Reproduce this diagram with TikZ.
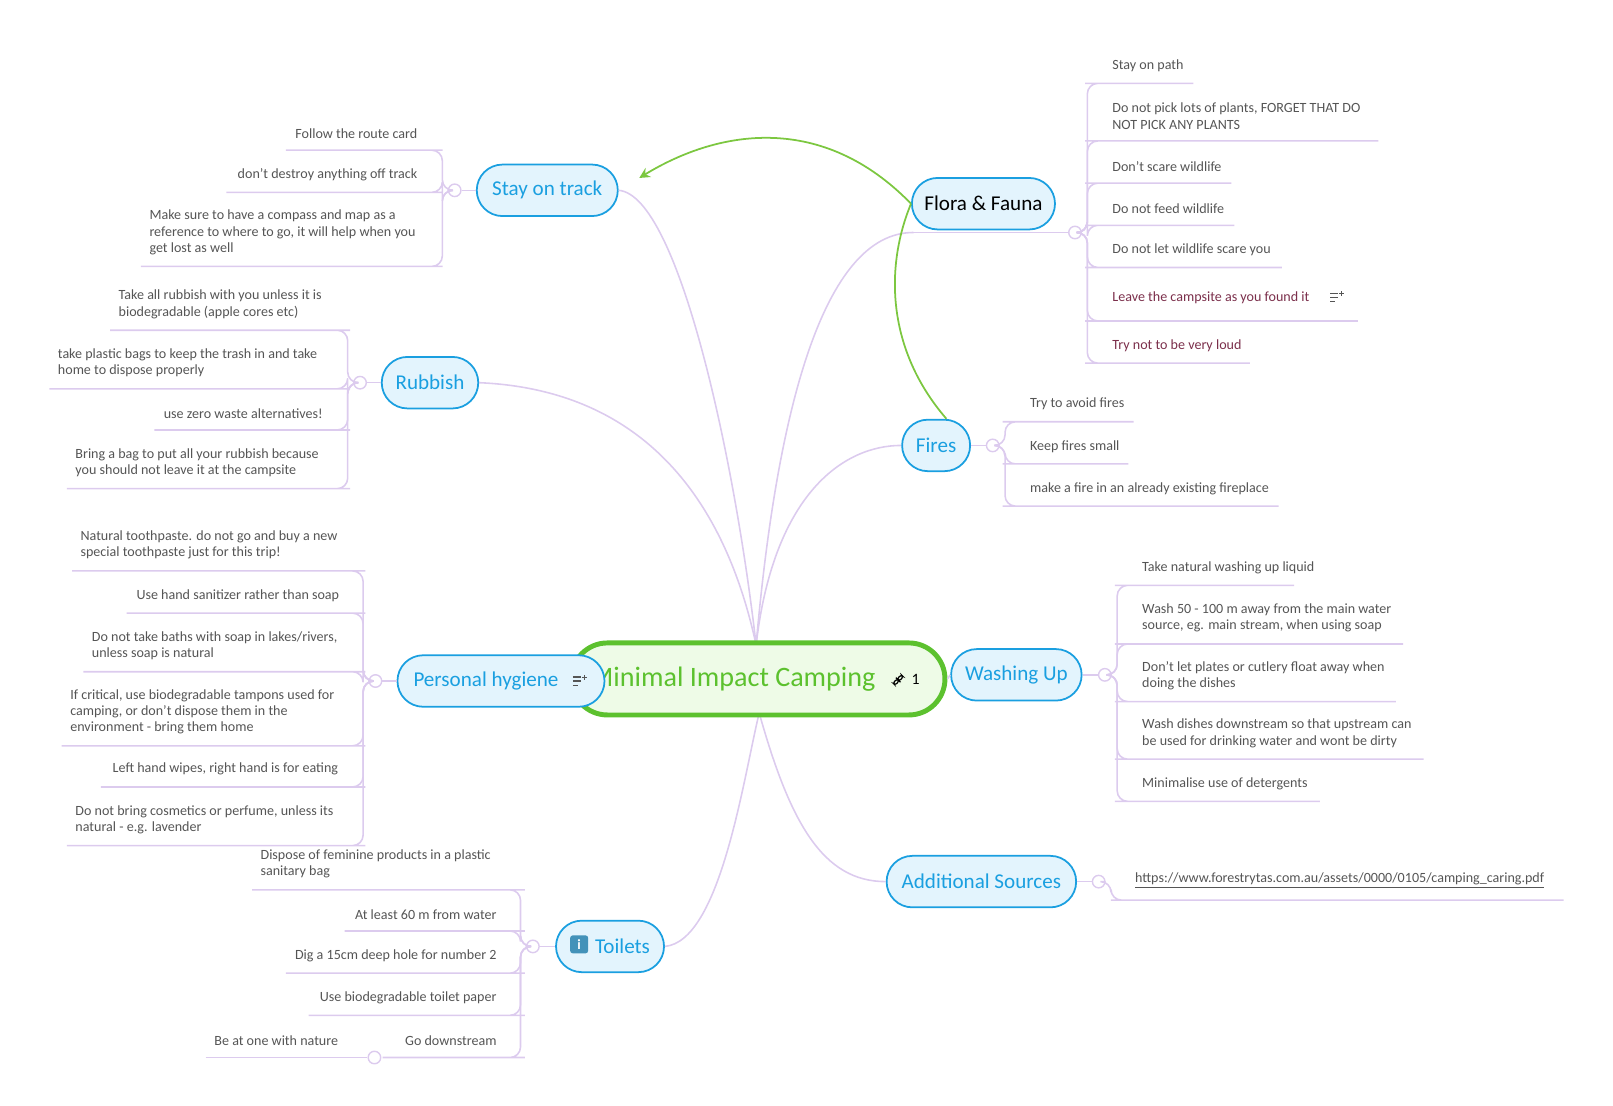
\documentclass[tikz,border=0pt]{standalone}
\usepackage{fontspec}
\setmainfont{Carlito}
\usetikzlibrary{calc,arrows.meta}
\definecolor{topicblue}{HTML}{1A9FE0}
\definecolor{topicfill}{HTML}{E3F4FD}
\definecolor{rootgreen}{HTML}{5CC12E}
\definecolor{rootfill}{HTML}{EEFBE7}
\definecolor{leafline}{HTML}{DCCBEE}
\definecolor{leafgrey}{HTML}{555555}
\definecolor{leafbrown}{HTML}{7B2F4B}
\definecolor{relgreen}{HTML}{7CC740}
\tikzset{
  topic/.style = {draw=topicblue, fill=topicfill, text=topicblue, line width=1pt,
    rounded corners=0.515cm, minimum height=1.03cm, inner xsep=0.25cm,
    font=\fontsize{12}{14}\selectfont},
  hub/.style = {circle, draw=leafline, fill=white, line width=0.8pt, minimum size=0.25cm, inner sep=0},
  leaf/.style = {text=leafgrey, inner sep=0, align=left, font=\fontsize{8}{9.3}\selectfont},
  leafline/.style = {draw=leafline, line width=0.9pt},
  relarrow/.style = {draw=relgreen, line width=1pt},
}
% leaf: name, text x, anchor, text, far x, near x, underline y, hub
\newcommand\leafL[8]{%
  \node[leaf, anchor=south #3] (#1) at (#2,#7-11) {#4};
  \draw[leafline, rounded corners=6] (#5,#7) -- (#6,#7) -| ($(#8)+(-12,0)$) -- (#8);}
\newcommand\leafR[8]{%
  \node[leaf, anchor=south #3] (#1) at (#2,#7-11) {#4};
  \draw[leafline, rounded corners=6] (#5,#7) -- (#6,#7) -| ($(#8)+(12,0)$) -- (#8);}
\newcommand\noteicon[1]{%
  \draw[leafgrey, line width=0.7pt] ($(#1)+(-5,-4)$) -- ++(8,0) ($(#1)+(-5,0)$) -- ++(8,0) ($(#1)+(-5,4)$) -- ++(5,0)
    ($(#1)+(6,-6)$) -- ++(0,5) ($(#1)+(3.5,-3.5)$) -- ++(5,0);}
\begin{document}
\begin{tikzpicture}[x=0.020574cm, y=-0.020574cm]
  \useasboundingbox (0,0) rectangle (1568,1075);

  % center
  \coordinate (ctop) at (735,627);
  \coordinate (cbot) at (738,693);

  \node[topic, minimum width=2.82cm] (st) at (532,185) {Stay on track};
  \node[topic, minimum width=1.93cm] (rb) at (418,372) {Rubbish};
  \node[topic, minimum width=2.16cm] (to) at (593,920) {\hspace*{0.5cm}Toilets};
  \node[topic, minimum width=2.78cm, text=black] (ff) at (956,198) {Flora \& Fauna};
  \node[topic, minimum width=1.36cm] (fi) at (910,433) {Fires};
  \node[topic, minimum width=2.61cm] (wu) at (988,656) {Washing Up};
  \node[topic, minimum width=3.79cm] (as) at (954,857) {Additional Sources};

  % branches from center
  \draw[leafline] (st.east) .. controls (660,190) and (715,450) .. (ctop);
  \draw[leafline] (rb.east) .. controls (650,380) and (712,520) .. (ctop);
  \draw[leafline] (to.east) .. controls (700,915) and (722,760) .. (cbot);
  \draw[leafline] (ctop) .. controls (755,400) and (800,226) .. (888,226);
  \draw[leafline] (ctop) .. controls (752,480) and (820,433) .. (fi.west);
  \draw[leafline] (cbot) .. controls (768,800) and (800,857) .. (as.west);

  % hubs
  \node[hub] (sth) at (442,185) {};
  \node[hub] (rbh) at (350,372) {};
  \node[hub] (phh) at (365,662) {};
  \node[hub] (toh) at (518,920) {};
  \node[hub] (ffh) at (1045,226) {};
  \node[hub] (fih) at (965,433) {};
  \node[hub] (wuh) at (1074,656) {};
  \node[hub] (ash) at (1068,857) {};
  \draw[leafline] (888,226) -- (ffh);

  % Stay on track
  \leafL{st1}{406}{east}{Follow the route card}{278}{420}{146}{sth}
  \leafL{st2}{406}{east}{don't destroy anything off track}{220}{420}{187}{sth}
  \leafL{st3}{145}{west}{Make sure to have a compass and map as a\\reference to where to go, it will help when you\\get lost as well}{137}{420}{259}{sth}
  % Rubbish
  \leafL{rb1}{115}{west}{Take all rubbish with you unless it is\\biodegradable (apple cores etc)}{107}{330}{321}{rbh}
  \leafL{rb2}{56}{west}{take plastic bags to keep the trash in and take\\home to dispose properly}{48}{330}{378}{rbh}
  \leafL{rb3}{314}{east}{use zero waste alternatives!}{150}{330}{418}{rbh}
  \leafL{rb4}{73}{west}{Bring a bag to put all your rubbish because\\you should not leave it at the campsite}{65}{330}{475}{rbh}
  % Personal hygiene
  \leafL{ph1}{78}{west}{Natural toothpaste. do not go and buy a new\\special toothpaste just for this trip!}{70}{345}{555}{phh}
  \leafL{ph2}{330}{east}{Use hand sanitizer rather than soap}{123}{345}{596}{phh}
  \leafL{ph3}{89}{west}{Do not take baths with soap in lakes/rivers,\\unless soap is natural}{81}{345}{653}{phh}
  \leafL{ph4}{68}{west}{If critical, use biodegradable tampons used for\\camping, or don't dispose them in the\\environment - bring them home}{60}{345}{725}{phh}
  \leafL{ph5}{329}{east}{Left hand wipes, right hand is for eating}{98}{345}{765}{phh}
  \leafL{ph6}{73}{west}{Do not bring cosmetics or perfume, unless its\\natural - e.g. lavender}{65}{345}{822}{phh}
  % Toilets
  \leafL{to1}{253}{west}{Dispose of feminine products in a plastic\\sanitary bag}{245}{500}{865}{toh}
  \leafL{to2}{483}{east}{At least 60 m from water}{335}{500}{905}{toh}
  \leafL{to3}{483}{east}{Dig a 15cm deep hole for number 2}{278}{500}{946}{toh}
  \leafL{to4}{483}{east}{Use biodegradable toilet paper}{300}{500}{987}{toh}
  \leafL{to5}{483}{east}{Go downstream}{372}{500}{1028}{toh}
  \node[hub] (to5h) at (364,1028) {};
  \node[leaf, anchor=south east] (to6) at (329,1017) {Be at one with nature};
  \draw[leafline] (200,1028) -- (to5h);
  % Flora & Fauna
  \leafR{ff1}{1081}{west}{Stay on path}{1160}{1065}{81}{ffh}
  \leafR{ff2}{1081}{west}{Do not pick lots of plants, FORGET THAT DO\\NOT PICK ANY PLANTS}{1340}{1065}{137}{ffh}
  \leafR{ff3}{1081}{west}{Don't scare wildlife}{1197}{1065}{178}{ffh}
  \leafR{ff4}{1081}{west}{Do not feed wildlife}{1200}{1065}{219}{ffh}
  \leafR{ff5}{1081}{west}{Do not let wildlife scare you}{1246}{1065}{260}{ffh}
  \node[leaf, anchor=west, text=leafbrown] (ff6) at (1081,289) {Leave the campsite as you found it};
  \draw[leafline, rounded corners=6] (1320,312) -- (1065,312) -| ($(ffh)+(12,0)$) -- (ffh);
  \noteicon{1298,289}
  \leafR{ff7}{1081}{west}{\textcolor{leafbrown}{Try not to be very loud}}{1215}{1065}{353}{ffh}
  % Fires
  \leafR{fi1}{1001}{west}{Try to avoid fires}{1102}{985}{410}{fih}
  \leafR{fi2}{1001}{west}{Keep fires small}{1097}{985}{451}{fih}
  \leafR{fi3}{1001}{west}{make a fire in an already existing fireplace}{1243}{985}{492}{fih}
  % Washing Up
  \leafR{wu1}{1110}{west}{Take natural washing up liquid}{1258}{1094}{569}{wuh}
  \leafR{wu2}{1110}{west}{Wash 50 - 100 m away from the main water\\source, eg. main stream, when using soap}{1364}{1094}{626}{wuh}
  \leafR{wu3}{1110}{west}{Don't let plates or cutlery float away when\\doing the dishes}{1357}{1094}{682}{wuh}
  \leafR{wu4}{1110}{west}{Wash dishes downstream so that upstream can\\be used for drinking water and wont be dirty}{1384}{1094}{738}{wuh}
  \leafR{wu5}{1110}{west}{Minimalise use of detergents}{1283}{1094}{779}{wuh}
  % Additional Sources
  \leafR{as1}{1103}{west}{\underline{https://www.forestrytas.com.au/assets/0000/0105/camping\_caring.pdf}}{1520}{1090}{875}{ash}

  \draw[leafline] (st.west) -- (sth);
  \draw[leafline] (rb.west) -- (rbh);
  \draw[leafline] (to.west) -- (toh);
  \draw[leafline] (fi.east) -- (fih);
  \draw[leafline] (wu.east) -- (wuh);
  \draw[leafline] (as.east) -- (ash);

  % root and the nodes beside it
  \node[draw=rootgreen, fill=rootfill, line width=2.8pt, rounded corners=0.72cm,
    minimum width=7.47cm, minimum height=1.44cm] (root) at (737,660) {};
  \node[text=rootgreen, font=\fontsize{16}{19}\selectfont] (roottext) at (712,660) {Minimal Impact Camping};
  \node[font=\fontsize{9}{10}\selectfont, text=black] (rootlink) at (890,660) {1};
  \draw[black, line width=0.7pt, rounded corners=1.2] ($(rootlink.west)+(-12,4)$) -- ++(4,-4) -- ++(2,2) -- ++(-4,4) -- cycle
    ($(rootlink.west)+(-8,0)$) -- ++(4,-4) -- ++(2,2) -- ++(-4,4) -- cycle;
  \node[topic, minimum width=4.14cm] (ph) at (487,662) {Personal hygiene\hspace*{0.6cm}};
  \draw[leafline] (ph.west) -- (phh);
  \noteicon{562,662}
  \draw[leafline] (root.east) -- (wu.west);
  \node[fill=topicblue!60!gray, text=white, rounded corners=1.5pt, inner sep=0, minimum size=0.36cm,
    font=\bfseries\fontsize{8}{9}\selectfont] (toicon) at (563,918) {i};

  % relationships
  \draw[relarrow, -{Stealth[length=6pt, width=6pt]}] (ff.west) .. controls (800,110) and (700,125) .. ($(st.east)+(20,-12)$);
  \draw[relarrow] (ff.west) .. controls (860,260) and (862,340) .. ($(fi.north)+(10,0)$);
\end{tikzpicture}
\end{document}
